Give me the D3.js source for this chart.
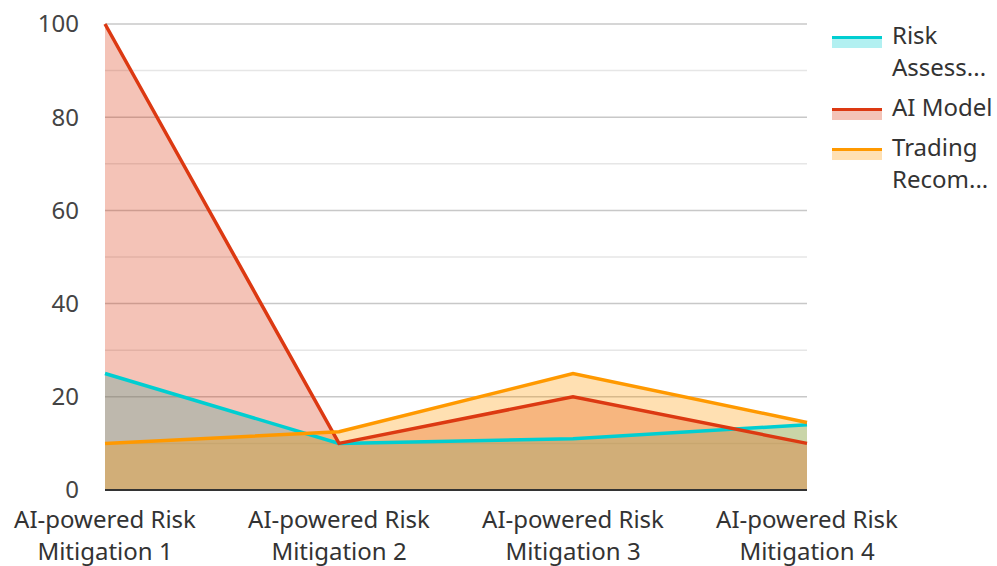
<!DOCTYPE html>
<html><head><meta charset="utf-8">
<script src="https://cdn.jsdelivr.net/npm/d3@7"></script>
<style>body{margin:0;background:#fff}svg{display:block;font-family:"Noto Sans",sans-serif}</style>
</head><body><svg id="c" width="997" height="566"></svg>
<script>
const categories = [["AI-powered Risk","Mitigation 1"],["AI-powered Risk","Mitigation 2"],["AI-powered Risk","Mitigation 3"],["AI-powered Risk","Mitigation 4"]];
const seriesNames = [["Risk","Assess..."],["AI Model"],["Trading","Recom..."]];
const seriesColors = ["#00CED1","#DC3912","#FF9900"];
const riskValues = [25, 10, 11, 14];
const modelValues = [100, 10, 20, 10];
const tradingValues = [10, 12.5, 25, 14.5];
const yTicks = [0,20,40,60,80,100];
const yMinor = [10,30,50,70,90];

const series = [riskValues, modelValues, tradingValues];
const svg = d3.select("#c");
const x = d3.scalePoint().domain(d3.range(categories.length)).range([105,807]);
const y = d3.scaleLinear().domain([0,100]).range([490,24]);

const g = svg.append("g");
g.selectAll(".minor").data(yMinor).join("line")
 .attr("x1",105).attr("x2",807).attr("y1",d=>y(d)).attr("y2",d=>y(d))
 .attr("stroke","#e6e6e6").attr("stroke-width",1.5);
g.selectAll(".major").data(yTicks.filter(d=>d>0)).join("line")
 .attr("x1",105).attr("x2",807).attr("y1",d=>y(d)).attr("y2",d=>y(d))
 .attr("stroke","#c8c8c8").attr("stroke-width",1.5);

const area = d3.area().x((d,i)=>x(i)).y0(y(0)).y1(d=>y(d));
const line = d3.line().x((d,i)=>x(i)).y(d=>y(d));
series.forEach((s,k)=>{
  g.append("path").attr("d",area(s)).attr("fill",seriesColors[k]).attr("fill-opacity",0.3);
});
series.forEach((s,k)=>{
  g.append("path").attr("d",line(s)).attr("fill","none").attr("stroke",seriesColors[k]).attr("stroke-width",3.5).attr("stroke-linejoin","miter");
});

g.append("line").attr("x1",105).attr("x2",807).attr("y1",y(0)).attr("y2",y(0)).attr("stroke","#333").attr("stroke-width",2);

g.selectAll(".yl").data(yTicks).join("text")
 .attr("x",79).attr("y",d=>y(d)).attr("dy","0.35em").attr("text-anchor","end")
 .attr("font-size",24).attr("fill","#444").text(d=>d);

categories.forEach((c,i)=>{
  const t = g.append("text").attr("text-anchor","middle").attr("font-size",24).attr("fill","#333");
  c.forEach((ln,j)=>t.append("tspan").attr("x",x(i)).attr("y",528+j*32).text(ln));
});

const legendY = [36,108,148];
seriesNames.forEach((n,k)=>{
  const ly = legendY[k];
  g.append("rect").attr("x",832).attr("y",ly).attr("width",50).attr("height",12).attr("fill",seriesColors[k]).attr("fill-opacity",0.3);
  g.append("line").attr("x1",832).attr("x2",882).attr("y1",ly+1.5).attr("y2",ly+1.5).attr("stroke",seriesColors[k]).attr("stroke-width",3);
  const t = g.append("text").attr("font-size",24).attr("fill","#333");
  n.forEach((ln,j)=>t.append("tspan").attr("x",892).attr("y",ly+8+j*32).text(ln));
});
</script></body></html>
